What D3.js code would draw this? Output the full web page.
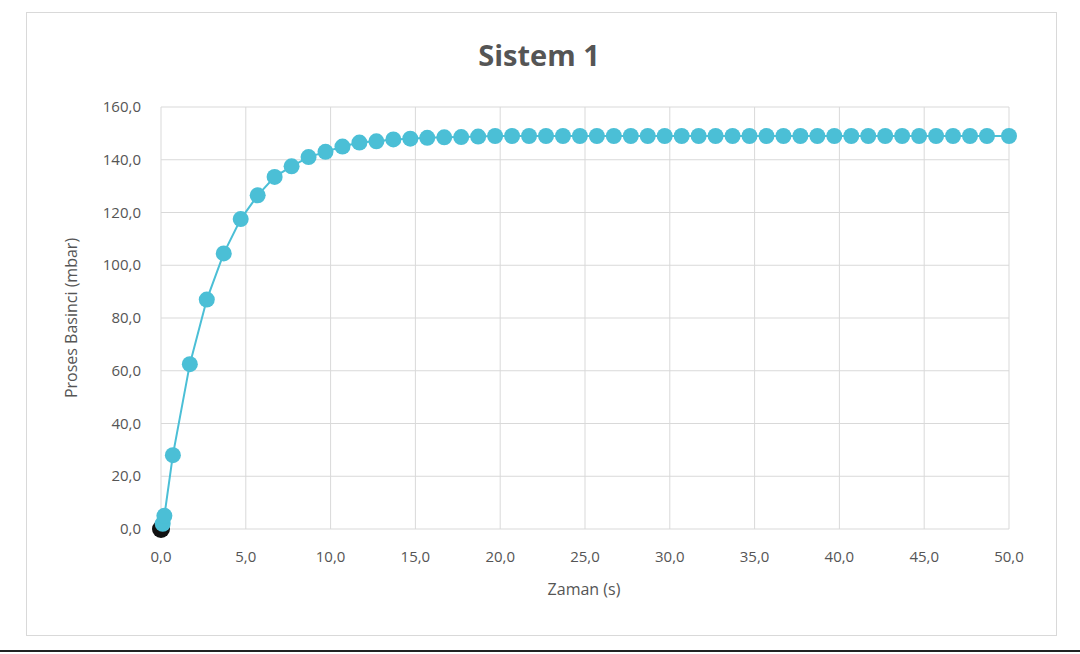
<!DOCTYPE html><html><head><meta charset="utf-8"><script src="https://cdn.jsdelivr.net/npm/d3@7"></script>
<style>body{margin:0;background:#fff}text{font-family:"Open Sans",sans-serif}</style></head><body><svg id="c" width="1080" height="654"></svg><script>
const xTicks=[0,5,10,15,20,25,30,35,40,45,50];
const yTicks=[0,20,40,60,80,100,120,140,160];
const early=[[0.1,2],[0.2,5],[0.7,28],[1.7,62.5],[2.7,87],[3.7,104.5],[4.7,117.5],[5.7,126.5],[6.7,133.5],[7.7,137.5],[8.7,141],[9.7,143],[10.7,145],[11.7,146.5],[12.7,147],[13.7,147.7],[14.7,148],[15.7,148.3],[16.7,148.5],[17.7,148.6],[18.7,148.8]];
const lateX=[19.7,20.7,21.7,22.7,23.7,24.7,25.7,26.7,27.7,28.7,29.7,30.7,31.7,32.7,33.7,34.7,35.7,36.7,37.7,38.7,39.7,40.7,41.7,42.7,43.7,44.7,45.7,46.7,47.7,48.7,50];
const lateY=lateX.map(()=>149);
const data=[[0,0]].concat(early,lateX.map((x,i)=>[x,lateY[i]]));
const svg=d3.select("#c");
svg.append("rect").attr("x",26.5).attr("y",12.5).attr("width",1030).attr("height",623).attr("fill","#fff").attr("stroke","#d9d9d9");
svg.append("line").attr("x1",0).attr("x2",1080).attr("y1",651).attr("y2",651).attr("stroke","#222").attr("stroke-width",2);
const x=d3.scaleLinear().domain([0,50]).range([161,1009]);
const y=d3.scaleLinear().domain([0,160]).range([529,107]);
const g=svg.append("g");
g.selectAll(".gy").data(yTicks).join("line").attr("x1",161).attr("x2",1009).attr("y1",d=>y(d)).attr("y2",d=>y(d)).attr("stroke","#d9d9d9");
g.selectAll(".gx").data(xTicks).join("line").attr("y1",107).attr("y2",529).attr("x1",d=>x(d)).attr("x2",d=>x(d)).attr("stroke","#d9d9d9");
const fmt=d=>d.toFixed(1).replace(".",",");
g.selectAll(".tx").data(xTicks).join("text").attr("x",d=>x(d)).attr("y",562).attr("text-anchor","middle").attr("font-size",15).attr("fill","#555").text(fmt);
g.selectAll(".ty").data(yTicks).join("text").attr("x",141).attr("y",d=>y(d)+5).attr("text-anchor","end").attr("font-size",15).attr("fill","#555").text(fmt);
svg.append("text").attr("x",539).attr("y",66).attr("text-anchor","middle").attr("font-size",29).attr("font-weight","bold").attr("fill","#555").text("Sistem 1");
svg.append("text").attr("x",584).attr("y",595).attr("text-anchor","middle").attr("font-size",16).attr("fill","#555").text("Zaman (s)");
svg.append("text").attr("transform","translate(77,318) rotate(-90)").attr("text-anchor","middle").attr("font-size",16).attr("fill","#555").text("Proses Basinci (mbar)");
const line=d3.line().x(d=>x(d[0])).y(d=>y(d[1]));
svg.append("path").datum(data.slice(1)).attr("d",line).attr("fill","none").attr("stroke","#4bbfd6").attr("stroke-width",2);
svg.append("circle").attr("cx",x(0)).attr("cy",y(0)).attr("r",9).attr("fill","#111");
svg.selectAll(".pt").data(data.slice(1)).join("circle").attr("cx",d=>x(d[0])).attr("cy",d=>y(d[1])).attr("r",8).attr("fill","#4bbfd6");
</script></body></html>
